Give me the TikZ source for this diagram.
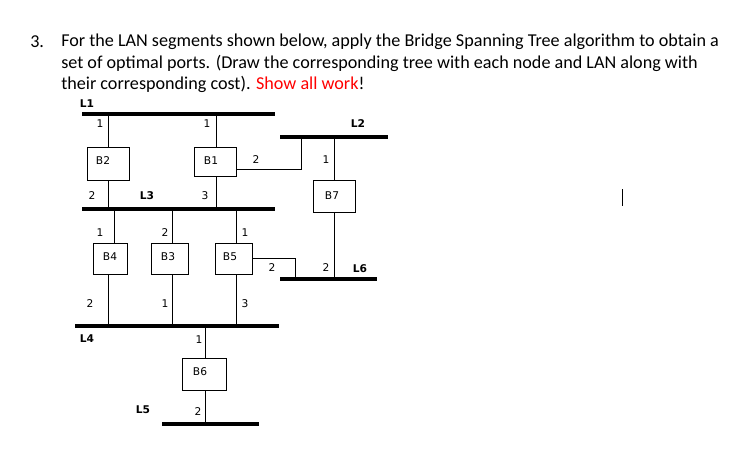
\documentclass[tikz,border=0pt]{standalone}
\usepackage{fontspec}
\setmainfont{Carlito}
\newfontfamily\lblfont{DejaVu Sans}
\begin{document}
\begin{tikzpicture}[x=0.75pt,y=-0.75pt,
  lan/.style={line width=2.4pt},
  wire/.style={line width=0.6pt},
  lb/.style={font=\lblfont\fontsize{8}{9}\selectfont},
  ln/.style={font=\lblfont\bfseries\fontsize{8}{9}\selectfont},
  ttl/.style={font=\fontsize{13.6}{15.75}\selectfont,anchor=west,inner sep=0pt}]
\useasboundingbox (0,0) rectangle (752,468);
\node[ttl] (t0) at (30,42) {3.};
\node[ttl] (t1) at (61,42) {For the LAN segments shown below, apply the Bridge Spanning Tree algorithm to obtain a};
\node[ttl] (t2) at (61,63) {set of optimal ports. (Draw the corresponding tree with each node and LAN along with};
\node[ttl] (t3) at (61,84) {their corresponding cost). \textcolor{red}{Show all work}!};
% LANs
\coordinate (L1a) at (82,114); \coordinate (L1b) at (275,114);
\coordinate (L2a) at (280,137); \coordinate (L2b) at (388,137);
\coordinate (L3a) at (82,209); \coordinate (L3b) at (275,209);
\coordinate (L4a) at (75,326); \coordinate (L4b) at (279,326);
\coordinate (L5a) at (162,424); \coordinate (L5b) at (259,424);
\coordinate (L6a) at (280,279); \coordinate (L6b) at (377,279);
\foreach \l in {L1,L2,L3,L4,L5,L6} \draw[lan] (\l a) -- (\l b);
% bridges
\node[draw,wire,minimum width=31.5pt,minimum height=24.75pt,inner sep=0pt] (B2) at (108,163.5) {};
\node[draw,wire,minimum width=32pt,minimum height=21.75pt,inner sep=0pt] (B1) at (215.5,161.5) {};
\node[draw,wire,minimum width=32pt,minimum height=24pt,inner sep=0pt] (B7) at (334.5,196) {};
\node[draw,wire,minimum width=26pt,minimum height=23.25pt,inner sep=0pt] (B4) at (110.5,258.5) {};
\node[draw,wire,minimum width=27.75pt,minimum height=23.25pt,inner sep=0pt] (B3) at (169.5,258.5) {};
\node[draw,wire,minimum width=27.75pt,minimum height=23.25pt,inner sep=0pt] (B5) at (233.5,258.5) {};
\node[draw,wire,minimum width=33pt,minimum height=24pt,inner sep=0pt] (B6) at (204,374) {};
\foreach \n/\x/\y in {B2/103/161,B1/211/161,B7/332/196,B4/110/257,B3/168/257,B5/230/257,B6/200/372}
  \node[lb] (\n t) at (\x,\y) {\n};
% connections
\draw[wire] (108,114) -- (B2.north -| 108,0);
\draw[wire] (B2.south -| 108,0) -- (108,209);
\draw[wire] (216,114) -- (B1.north -| 216,0);
\draw[wire] (B1.south -| 216,0) -- (216,209);
\draw[wire] (B1.east |- 0,169) -- (301,169) -- (301,137);
\draw[wire] (334,137) -- (B7.north -| 334,0);
\draw[wire] (B7.south -| 334,0) -- (334,279);
\draw[wire] (114,209) -- (B4.north -| 114,0);
\draw[wire] (B4.south -| 108,0) -- (108,326);
\draw[wire] (172,209) -- (B3.north -| 172,0);
\draw[wire] (B3.south -| 172,0) -- (172,326);
\draw[wire] (236,209) -- (B5.north -| 236,0);
\draw[wire] (B5.south -| 236,0) -- (236,326);
\draw[wire] (B5.east |- 0,258) -- (295,258) -- (295,279);
\draw[wire] (205,326) -- (B6.north -| 205,0);
\draw[wire] (B6.south -| 205,0) -- (205,424);
% LAN labels
\foreach \n/\x/\y in {L1/87/104,L2/358/124,L3/147/196,L4/87/339,L5/143/410,L6/360/269}
  \node[ln] (\n t) at (\x,\y) {\n};
% port labels
\foreach \i/\t/\x/\y in {a/1/100/124,b/2/92/196,c/1/207/124,d/2/256/160,e/3/205/196,f/1/326/160,g/2/326/268,h/1/100/233,i/2/90/304,j/2/165/233,k/1/165/304,l/1/245/233,m/3/245/304,n/2/272/268,o/1/199/340,p/2/198/412}
  \node[lb] (p\i) at (\x,\y) {\t};
\draw[line width=0.5pt] (622,189) -- (622,206);
\end{tikzpicture}
\end{document}
